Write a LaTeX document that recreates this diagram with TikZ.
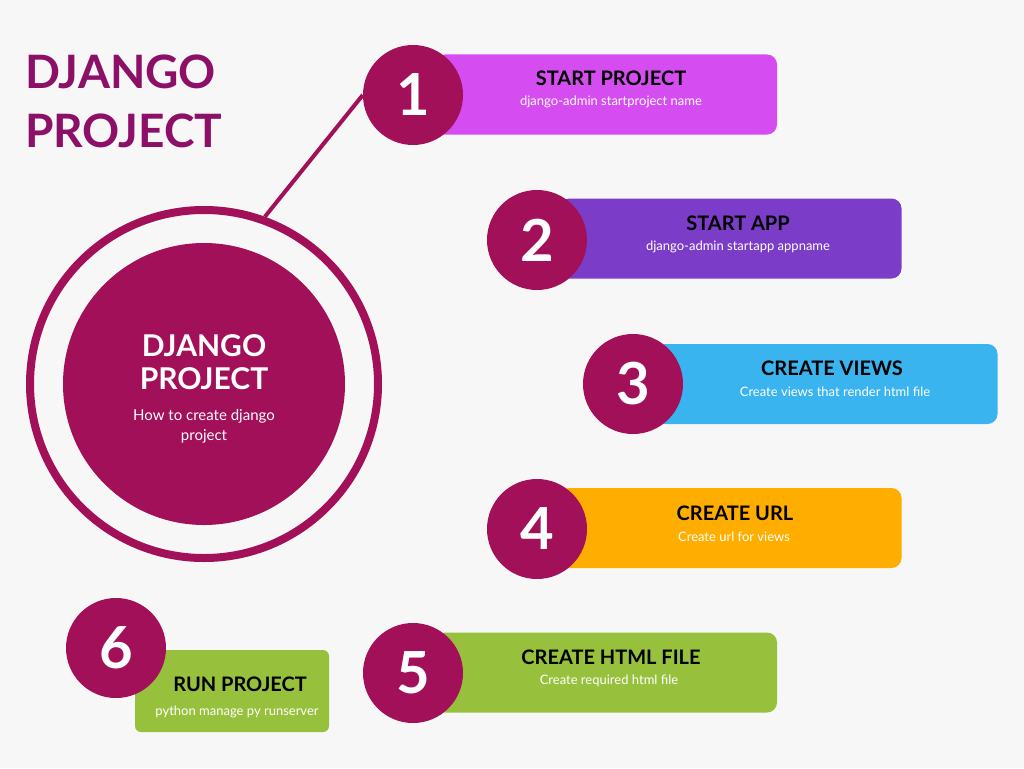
\documentclass[tikz,border=0pt]{standalone}
\usepackage{fontspec}
\setmainfont{Lato}
\definecolor{bg}{HTML}{F7F7F7}
\definecolor{crim}{HTML}{A3105A}
\definecolor{ttl}{HTML}{8C1068}
\definecolor{c1}{HTML}{D54CF0}
\definecolor{c2}{HTML}{7B3DC8}
\definecolor{c3}{HTML}{3AB4EE}
\definecolor{c4}{HTML}{FFAE00}
\definecolor{c5}{HTML}{97C13C}
\begin{document}
\begin{tikzpicture}[x=1pt,y=-1pt,
  numc/.style={circle,fill=crim,minimum size=100pt,inner sep=0pt,text=white,font=\fontsize{58}{58}\selectfont\bfseries},
  box/.style={rounded corners=10pt,minimum width=342pt,minimum height=80pt,inner sep=0pt},
  btitle/.style={font=\fontsize{20}{22}\selectfont\bfseries,text=black,inner sep=0pt},
  bsub/.style={font=\fontsize{13}{15}\selectfont,text=white,inner sep=0pt},
  conn/.style={draw=crim,line width=4pt}]
\fill[bg] (0,0) rectangle (1024,768);
\useasboundingbox (0,0) rectangle (1024,768);
\node[anchor=north west,align=left,text=ttl,inner sep=0pt,font=\fontsize{46}{59}\selectfont\bfseries] (title) at (25,55) {DJANGO\\PROJECT};
% boxes
\node[box,fill=c1] (b1) at (606,94.5) {};
\node[box,fill=c2] (b2) at (730.5,238.5) {};
\node[box,fill=c3] (b3) at (826.5,384) {};
\node[box,fill=c4] (b4) at (730.5,528) {};
\node[box,fill=c5] (b5) at (606,672.5) {};
\node[box,fill=c5,minimum width=194pt,minimum height=82pt,rounded corners=6pt] (b6) at (232,691) {};
\node[btitle] (t1) at (611,78) {START PROJECT};
\node[bsub] (s1) at (611,102) {django-admin startproject name};
\node[btitle] (t2) at (738,223) {START APP};
\node[bsub] (s2) at (738,247) {django-admin startapp appname};
\node[btitle] (t3) at (832,368) {CREATE VIEWS};
\node[bsub] (s3) at (835,392) {Create views that render html file};
\node[btitle] (t4) at (735,513) {CREATE URL};
\node[bsub] (s4) at (734,537) {Create url for views};
\node[btitle] (t5) at (611,657) {CREATE HTML FILE};
\node[bsub] (s5) at (609,681) {Create required html file};
\node[btitle] (t6) at (240,684) {RUN PROJECT};
\node[bsub] (s6) at (237,712) {python manage py runserver};
% ring
\node[circle,draw=crim,line width=8pt,fill=bg,minimum size=348pt,inner sep=0pt] (ring) at (204,384) {};
\node[circle,fill=crim,minimum size=282pt,inner sep=0pt] (core) at (204,384) {};
\node[text=white,align=center,inner sep=0pt,font=\fontsize{30}{33}\selectfont\bfseries] (ct) at (204,362) {DJANGO\\PROJECT};
\node[text=white,align=center,inner sep=0pt,font=\fontsize{15}{20}\selectfont] (cs) at (204,426) {How to create django\\project};
% number circles
\node[numc] (n1) at (413,95) {1};
\node[numc] (n2) at (537,240) {2};
\node[numc] (n3) at (633,384) {3};
\node[numc] (n4) at (537,529) {4};
\node[numc] (n5) at (413,673) {5};
\node[numc] (n6) at (116,648) {6};
% connectors
\begin{scope}[on background layer/.style={}]
\end{scope}
\path[conn] (ring.70) -- (n1.west |- n1.center) ;
\end{tikzpicture}
\end{document}
